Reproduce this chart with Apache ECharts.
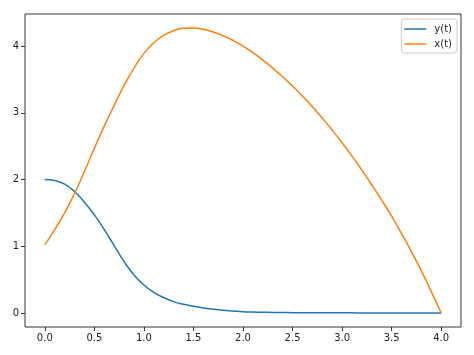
<!DOCTYPE html>
<html>
<head>
<meta charset="utf-8">
<script src="https://cdn.jsdelivr.net/npm/echarts@6/dist/echarts.min.js"></script>
<style>
  html, body { margin: 0; padding: 0; background: #fff; }
  #main { width: 474px; height: 355px; }
</style>
</head>
<body>
<div id="main"></div>
<script>
var chartDom = document.getElementById('main');
var myChart = echarts.init(chartDom);
var option;

// time samples, step 0.1
const t = [0.0, 0.1, 0.2, 0.3, 0.4, 0.5, 0.6, 0.7, 0.8, 0.9,
  1.0, 1.1, 1.2, 1.3, 1.4, 1.5, 1.6, 1.7, 1.8, 1.9,
  2.0, 2.1, 2.2, 2.3, 2.4, 2.5, 2.6, 2.7, 2.8, 2.9,
  3.0, 3.1, 3.2, 3.3, 3.4, 3.5, 3.6, 3.7, 3.8, 3.9, 4.0];

// values
const yVals = [2.00, 1.985, 1.93, 1.82, 1.66, 1.47, 1.25, 1.01, 0.77, 0.57,
  0.42, 0.31, 0.23, 0.17, 0.13, 0.10, 0.075, 0.055, 0.04, 0.03,
  0.02, 0.015, 0.011, 0.008, 0.006, 0.005, 0.004, 0.003, 0.003, 0.002,
  0.002, 0.002, 0.001, 0.001, 0.001, 0.001, 0.001, 0.001, 0.0, 0.0, 0.0];
const xVals = [1.02, 1.25, 1.50, 1.79, 2.12, 2.47, 2.80, 3.11, 3.41, 3.67,
  3.89, 4.05, 4.16, 4.23, 4.265, 4.27, 4.25, 4.21, 4.155, 4.085,
  4.00, 3.90, 3.79, 3.67, 3.54, 3.40, 3.25, 3.09, 2.92, 2.74,
  2.55, 2.35, 2.14, 1.92, 1.69, 1.45, 1.19, 0.92, 0.63, 0.32, 0.0];

const xTicks = [0, 0.5, 1, 1.5, 2, 2.5, 3, 3.5, 4];
const yTicks = [0, 1, 2, 3, 4];

const labelFont = { fontFamily: 'DejaVu Sans', fontSize: 10, color: '#222' };

option = {
  animation: false,
  grid: {
    left: 25, right: 13, top: 14, bottom: 28,
    show: true, borderColor: '#333', borderWidth: 1, backgroundColor: '#fff'
  },
  legend: {
    data: ['y(t)', 'x(t)'],
    orient: 'vertical',
    right: 17, top: 19,
    icon: 'rect',
    itemWidth: 22, itemHeight: 1.5, itemGap: 3,
    padding: [4, 5, 3, 3],
    borderColor: '#ccc', borderWidth: 1, borderRadius: 3,
    backgroundColor: 'rgba(255,255,255,0.8)',
    textStyle: Object.assign({ padding: [0, 0, 0, 3], lineHeight: 12 }, labelFont)
  },
  xAxis: {
    type: 'value',
    min: -0.2, max: 4.2,
    axisLine: { show: false, onZero: false },
    splitLine: { show: false },
    axisTick: { show: true, length: 4, customValues: xTicks, lineStyle: { color: '#333' } },
    axisLabel: Object.assign({ customValues: xTicks, margin: 6,
      formatter: function (v) { return v.toFixed(1); } }, labelFont)
  },
  yAxis: {
    type: 'value',
    min: -0.21, max: 4.48,
    axisLine: { show: false, onZero: false },
    splitLine: { show: false },
    axisTick: { show: true, length: 4, customValues: yTicks, lineStyle: { color: '#333' } },
    axisLabel: Object.assign({ customValues: yTicks, margin: 6,
      formatter: function (v) { return String(v); } }, labelFont)
  },
  series: [
    {
      name: 'y(t)', type: 'line', smooth: true, symbol: 'none',
      data: t.map((v, i) => [v, yVals[i]]),
      lineStyle: { color: '#1f77b4', width: 1.5 }, itemStyle: { color: '#1f77b4' }
    },
    {
      name: 'x(t)', type: 'line', smooth: true, symbol: 'none',
      data: t.map((v, i) => [v, xVals[i]]),
      lineStyle: { color: '#ff7f0e', width: 1.5 }, itemStyle: { color: '#ff7f0e' }
    }
  ]
};

option && myChart.setOption(option);
</script>
</body>
</html>
